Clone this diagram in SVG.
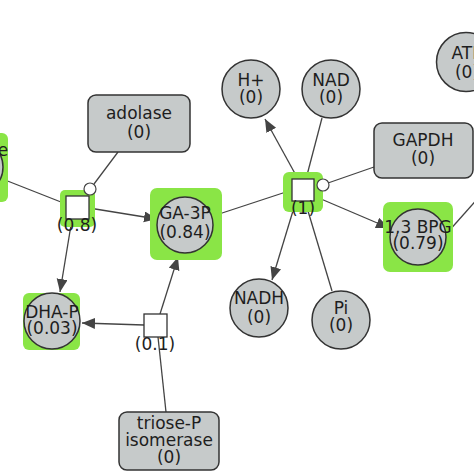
<svg xmlns="http://www.w3.org/2000/svg" width="474" height="474" viewBox="0 0 474 474">
<defs>
<style>
.hl{fill:#8ae546;stroke:none}
.sp{fill:#c6caca;stroke:#333;stroke-width:1.5}
.rx{fill:#fff;stroke:#333;stroke-width:1.3}
.en{fill:#c6caca;stroke:#333;stroke-width:1.5}
.t{font-family:"DejaVu Sans",sans-serif;font-size:17px;fill:#1e1e1e;text-anchor:middle}
.e{stroke:#444;stroke-width:1.3;fill:none}
.mod{fill:#fff;stroke:#444;stroke-width:1.2}
</style>
<marker id="arr" markerUnits="userSpaceOnUse" markerWidth="14" markerHeight="12" refX="13" refY="5.5" orient="auto">
<path d="M0,0 L13,5.5 L0,11 z" fill="#444"/>
</marker>
</defs>
<rect width="474" height="474" fill="#fff"/>
<g id="connectors">
<line class="e" x1="5" y1="180" x2="66" y2="204"/>
<line class="e" x1="118" y1="152" x2="94" y2="184"/>
<line class="e" x1="89" y1="208" x2="157" y2="219" marker-end="url(#arr)"/>
<line class="e" x1="72" y1="219" x2="60" y2="292" marker-end="url(#arr)"/>
<line class="e" x1="213" y1="216" x2="292" y2="190"/>
<line class="e" x1="298" y1="179" x2="265" y2="119" marker-end="url(#arr)"/>
<line class="e" x1="322" y1="118" x2="306" y2="179"/>
<line class="e" x1="374" y1="167" x2="328" y2="183"/>
<line class="e" x1="314" y1="196" x2="389" y2="228" marker-end="url(#arr)"/>
<line class="e" x1="448" y1="232" x2="480" y2="196"/>
<line class="e" x1="296" y1="201" x2="272" y2="280" marker-end="url(#arr)"/>
<line class="e" x1="305" y1="201" x2="332" y2="291"/>
<line class="e" x1="144" y1="325" x2="82" y2="323" marker-end="url(#arr)"/>
<line class="e" x1="160" y1="314" x2="178" y2="257" marker-end="url(#arr)"/>
<line class="e" x1="166" y1="412" x2="158" y2="337"/>
</g>
<g id="node-left">
<rect class="hl" x="-20" y="133" width="28" height="69" rx="6"/>
<circle class="sp" cx="-25" cy="167" r="28"/>
<text class="t" x="3" y="156">e</text>
</g>
<g id="reaction-aldolase">
<rect class="hl" x="60" y="190" width="35" height="37" rx="5"/>
<rect class="rx" x="66" y="196" width="23" height="23"/>
<text class="t" x="77" y="231">(0.8)</text>
</g>
<g id="mod-aldolase"><circle class="mod" cx="90" cy="189" r="6"/></g>
<g id="adolase">
<rect class="en" x="88" y="95" width="102" height="57" rx="8"/>
<text class="t" x="139" y="119">adolase</text>
<text class="t" x="139" y="138">(0)</text>
</g>
<g id="ga3p">
<rect class="hl" x="150" y="188" width="72" height="72" rx="7"/>
<circle class="sp" cx="185" cy="225" r="28"/>
<text class="t" x="185" y="219">GA-3P</text>
<text class="t" x="185" y="238">(0.84)</text>
</g>
<g id="reaction-gapdh">
<rect class="hl" x="283" y="172" width="40" height="40" rx="6"/>
<rect class="rx" x="292" y="179" width="22" height="22"/>
<text class="t" x="303" y="214">(1)</text>
</g>
<g id="mod-gapdh"><circle class="mod" cx="323" cy="185" r="6"/></g>
<g id="hplus">
<circle class="sp" cx="251" cy="89" r="29"/>
<text class="t" x="251" y="86">H+</text>
<text class="t" x="251" y="103">(0)</text>
</g>
<g id="nad">
<circle class="sp" cx="331" cy="89" r="29"/>
<text class="t" x="331" y="86">NAD</text>
<text class="t" x="331" y="103">(0)</text>
</g>
<g id="gapdh">
<rect class="en" x="374" y="123" width="99" height="55" rx="8"/>
<text class="t" x="423" y="146">GAPDH</text>
<text class="t" x="423" y="164">(0)</text>
</g>
<g id="bpg">
<rect class="hl" x="383" y="202" width="70" height="70" rx="7"/>
<circle class="sp" cx="418" cy="237" r="28"/>
<text class="t" x="418" y="233">1,3 BPG</text>
<text class="t" x="418" y="249">(0.79)</text>
</g>
<g id="atp">
<circle class="sp" cx="466" cy="62" r="29.5"/>
<text class="t" x="467" y="59">ATP</text>
<text class="t" x="467" y="78">(0)</text>
</g>
<g id="nadh">
<circle class="sp" cx="259" cy="308" r="29"/>
<text class="t" x="259" y="304">NADH</text>
<text class="t" x="259" y="323">(0)</text>
</g>
<g id="pi">
<circle class="sp" cx="341" cy="320" r="29"/>
<text class="t" x="341" y="314">Pi</text>
<text class="t" x="341" y="331">(0)</text>
</g>
<g id="dhap">
<rect class="hl" x="23" y="293" width="57" height="57" rx="6"/>
<circle class="sp" cx="52" cy="321" r="28"/>
<text class="t" x="52" y="318">DHA-P</text>
<text class="t" x="52" y="334">(0.03)</text>
</g>
<g id="reaction-tpi">
<rect class="rx" x="144" y="314" width="23" height="23"/>
<text class="t" x="155" y="350">(0.1)</text>
</g>
<g id="tpi">
<rect class="en" x="119" y="412" width="100" height="58" rx="8"/>
<text class="t" x="169" y="429">triose-P</text>
<text class="t" x="169" y="446">isomerase</text>
<text class="t" x="169" y="463">(0)</text>
</g>
</svg>
